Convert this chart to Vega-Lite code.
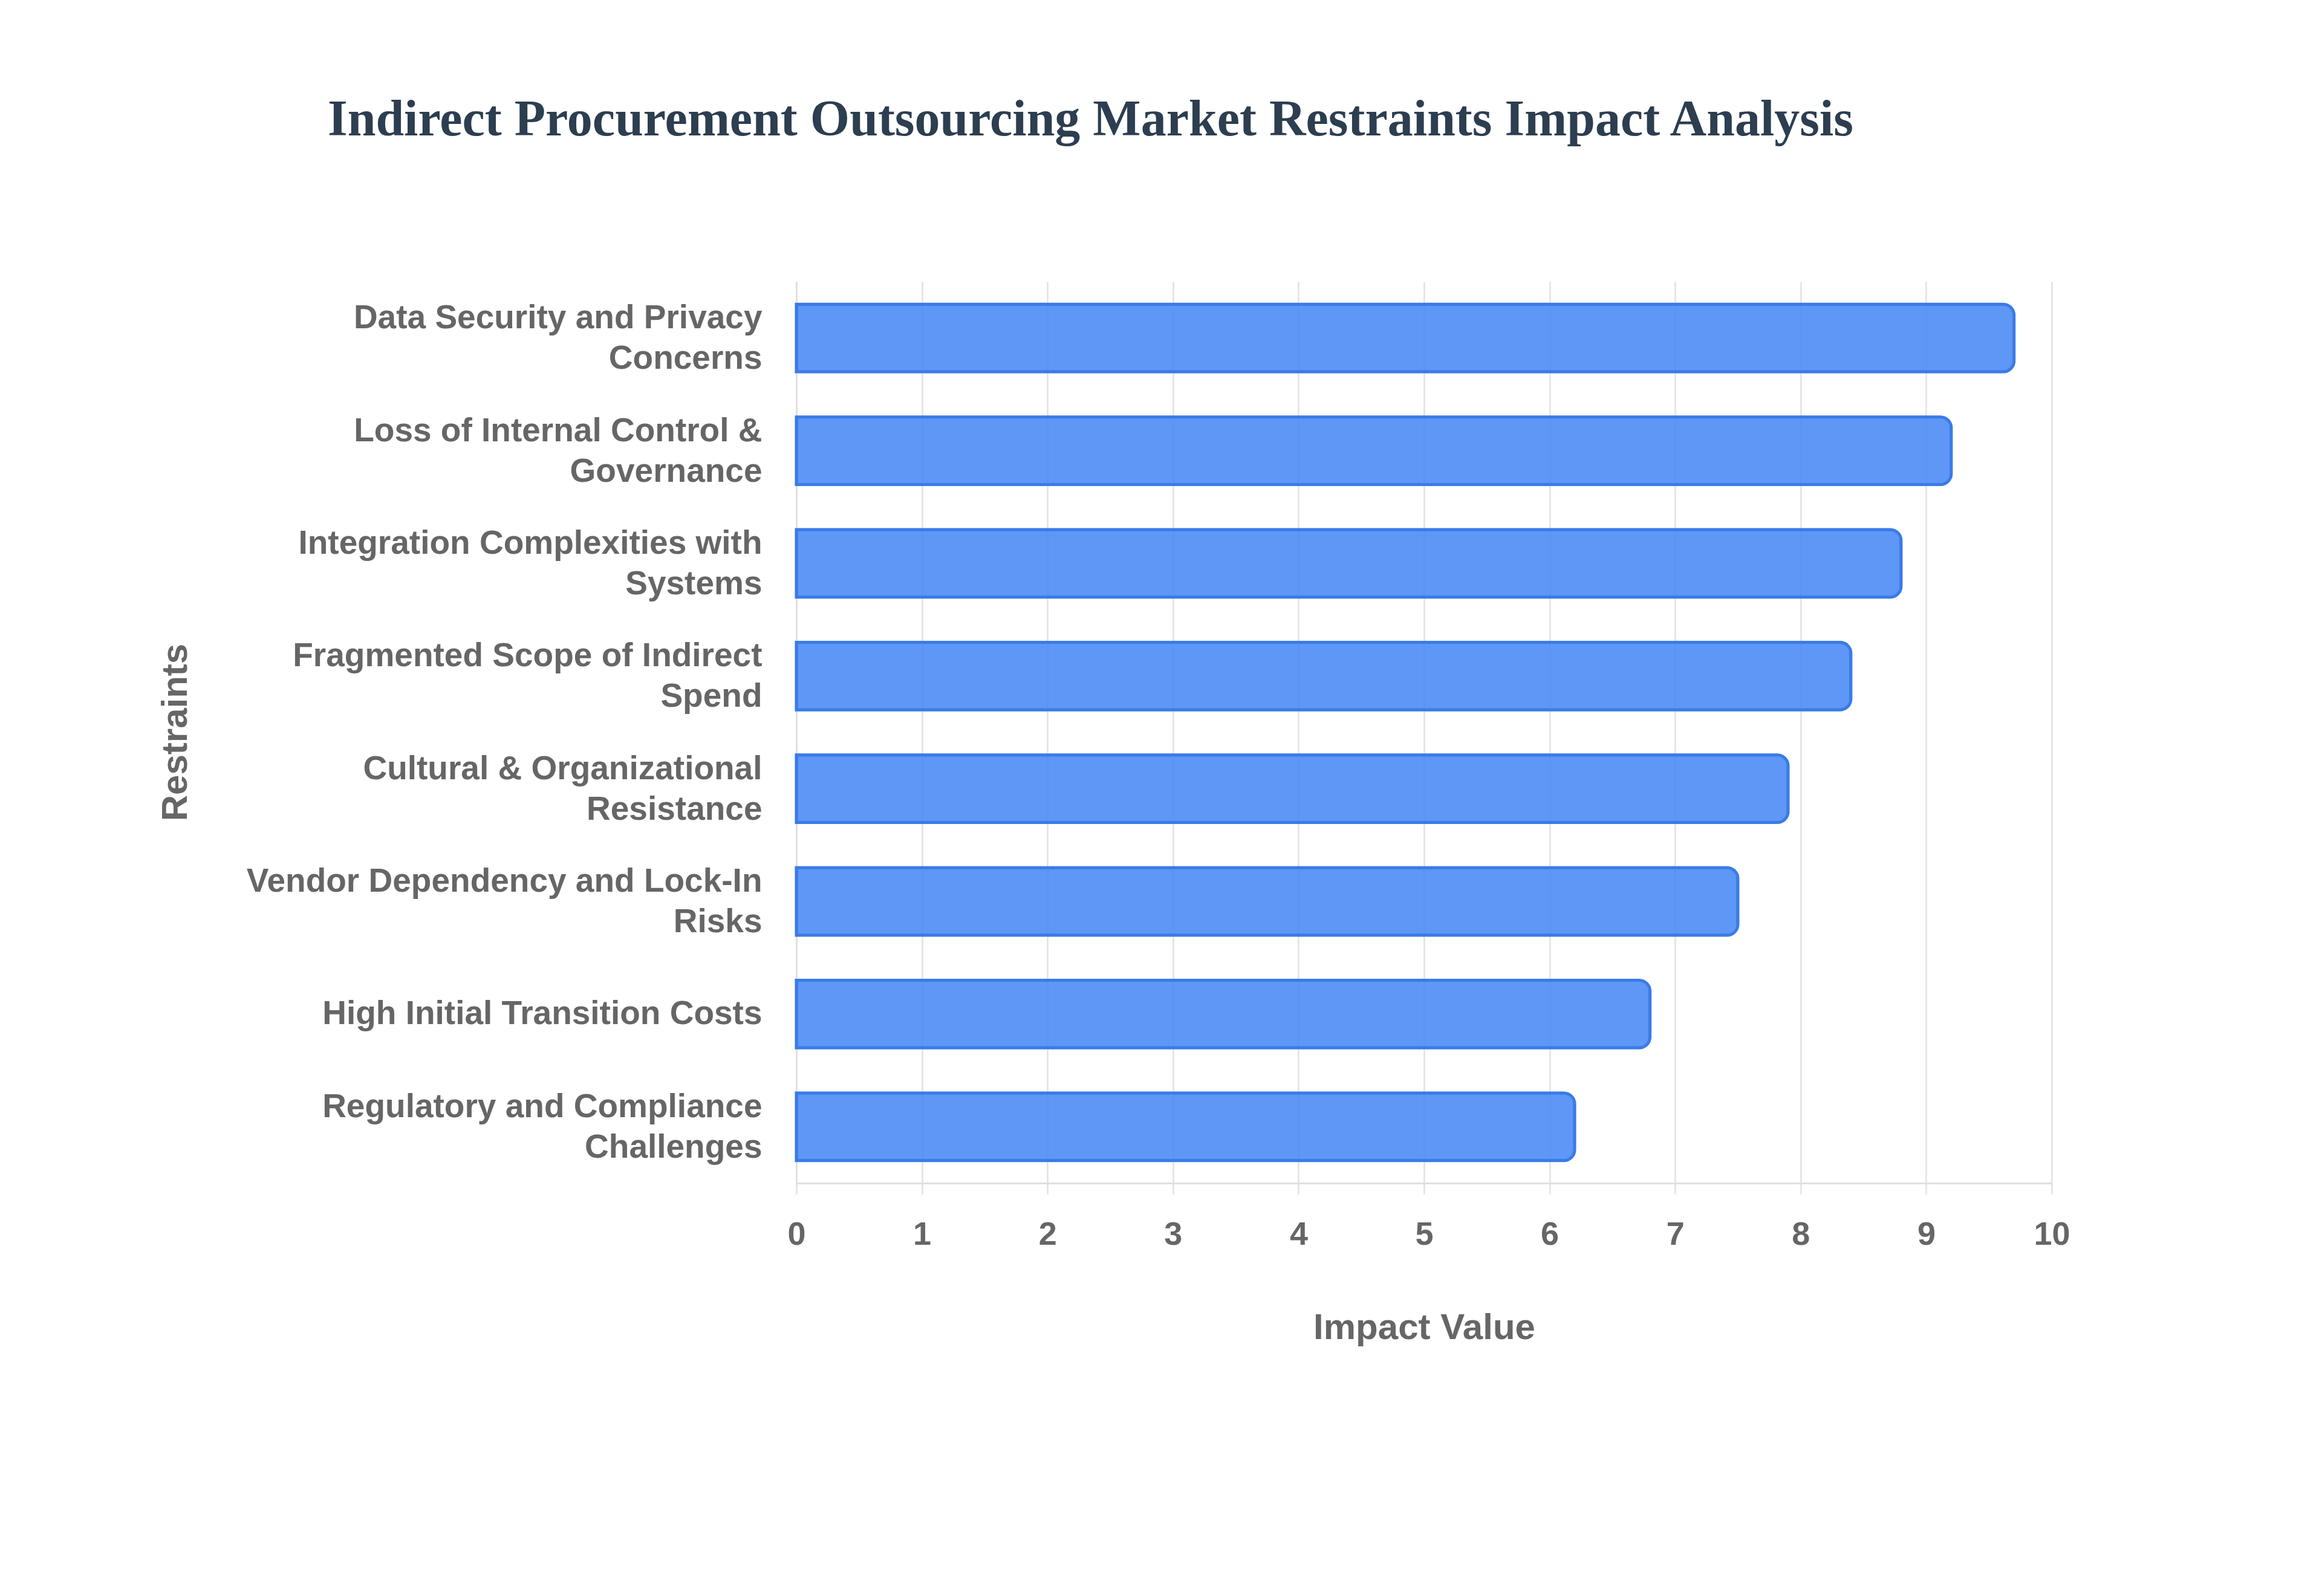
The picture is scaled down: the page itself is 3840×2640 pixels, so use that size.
{
  "$schema": "https://vega.github.io/schema/vega-lite/v6.json",
  "width": 2076,
  "height": 1491,
  "autosize": {"type": "none"},
  "padding": {"left": 1317, "top": 466, "right": 447, "bottom": 683},
  "background": "white",
  "title": {
    "text": "Indirect Procurement Outsourcing Market Restraints Impact Analysis",
    "anchor": "start",
    "frame": "group",
    "dx": -775,
    "offset": 158,
    "baseline": "alphabetic",
    "font": "Liberation Serif",
    "fontSize": 84,
    "fontWeight": "bold",
    "color": "#2c3e50"
  },
  "data": {
    "values": [
      {"Restraint": "Data Security and Privacy Concerns", "Impact": 9.7},
      {"Restraint": "Loss of Internal Control & Governance", "Impact": 9.2},
      {"Restraint": "Integration Complexities with Systems", "Impact": 8.8},
      {"Restraint": "Fragmented Scope of Indirect Spend", "Impact": 8.4},
      {"Restraint": "Cultural & Organizational Resistance", "Impact": 7.9},
      {"Restraint": "Vendor Dependency and Lock-In Risks", "Impact": 7.5},
      {"Restraint": "High Initial Transition Costs", "Impact": 6.8},
      {"Restraint": "Regulatory and Compliance Challenges", "Impact": 6.2}
    ]
  },
  "mark": {
    "type": "bar",
    "fill": "#4285F4",
    "fillOpacity": 0.85,
    "stroke": "#3a7be8",
    "strokeWidth": 5,
    "cornerRadiusEnd": 18
  },
  "encoding": {
    "y": {
      "field": "Restraint",
      "type": "nominal",
      "sort": "-x",
      "title": "Restraints",
      "scale": {"paddingInner": 0.4, "paddingOuter": 0.2},
      "axis": {
        "labelExpr": "length(datum.value) > 29 ? split(replace(datum.value, regexp('^(.{1,29}) (.*)$'), '$1|$2'), '|') : datum.value",
        "labelLineHeight": 67,
        "labelLimit": 1200,
        "labelFont": "Liberation Sans",
        "labelFontSize": 55,
        "labelFontWeight": "bold",
        "labelColor": "#666666",
        "labelPadding": 57,
        "labelOffset": {"condition": {"test": "length(datum.value) > 29", "value": -33}, "value": 0},
        "ticks": false,
        "domainColor": "#e0e0e0",
        "domainWidth": 3,
        "titleFont": "Liberation Sans",
        "titleFontSize": 60,
        "titleFontWeight": "bold",
        "titleColor": "#666666",
        "titleX": -1027,
        "titleY": 745,
        "titleBaseline": "middle",
        "titleAngle": -90
      }
    },
    "x": {
      "field": "Impact",
      "type": "quantitative",
      "title": "Impact Value",
      "scale": {"domain": [0, 10]},
      "axis": {
        "values": [0, 1, 2, 3, 4, 5, 6, 7, 8, 9, 10],
        "labelFlush": false,
        "labelFont": "Liberation Sans",
        "labelFontSize": 54,
        "labelFontWeight": "bold",
        "labelColor": "#666666",
        "labelPadding": 40,
        "tickSize": 18,
        "tickColor": "#e6e6e6",
        "tickWidth": 3,
        "gridColor": "#e6e6e6",
        "gridWidth": 3,
        "domainColor": "#e0e0e0",
        "domainWidth": 3,
        "titleFont": "Liberation Sans",
        "titleFontSize": 60,
        "titleFontWeight": "bold",
        "titleColor": "#666666",
        "titlePadding": 98
      }
    }
  },
  "config": {"view": {"stroke": null}}
}
